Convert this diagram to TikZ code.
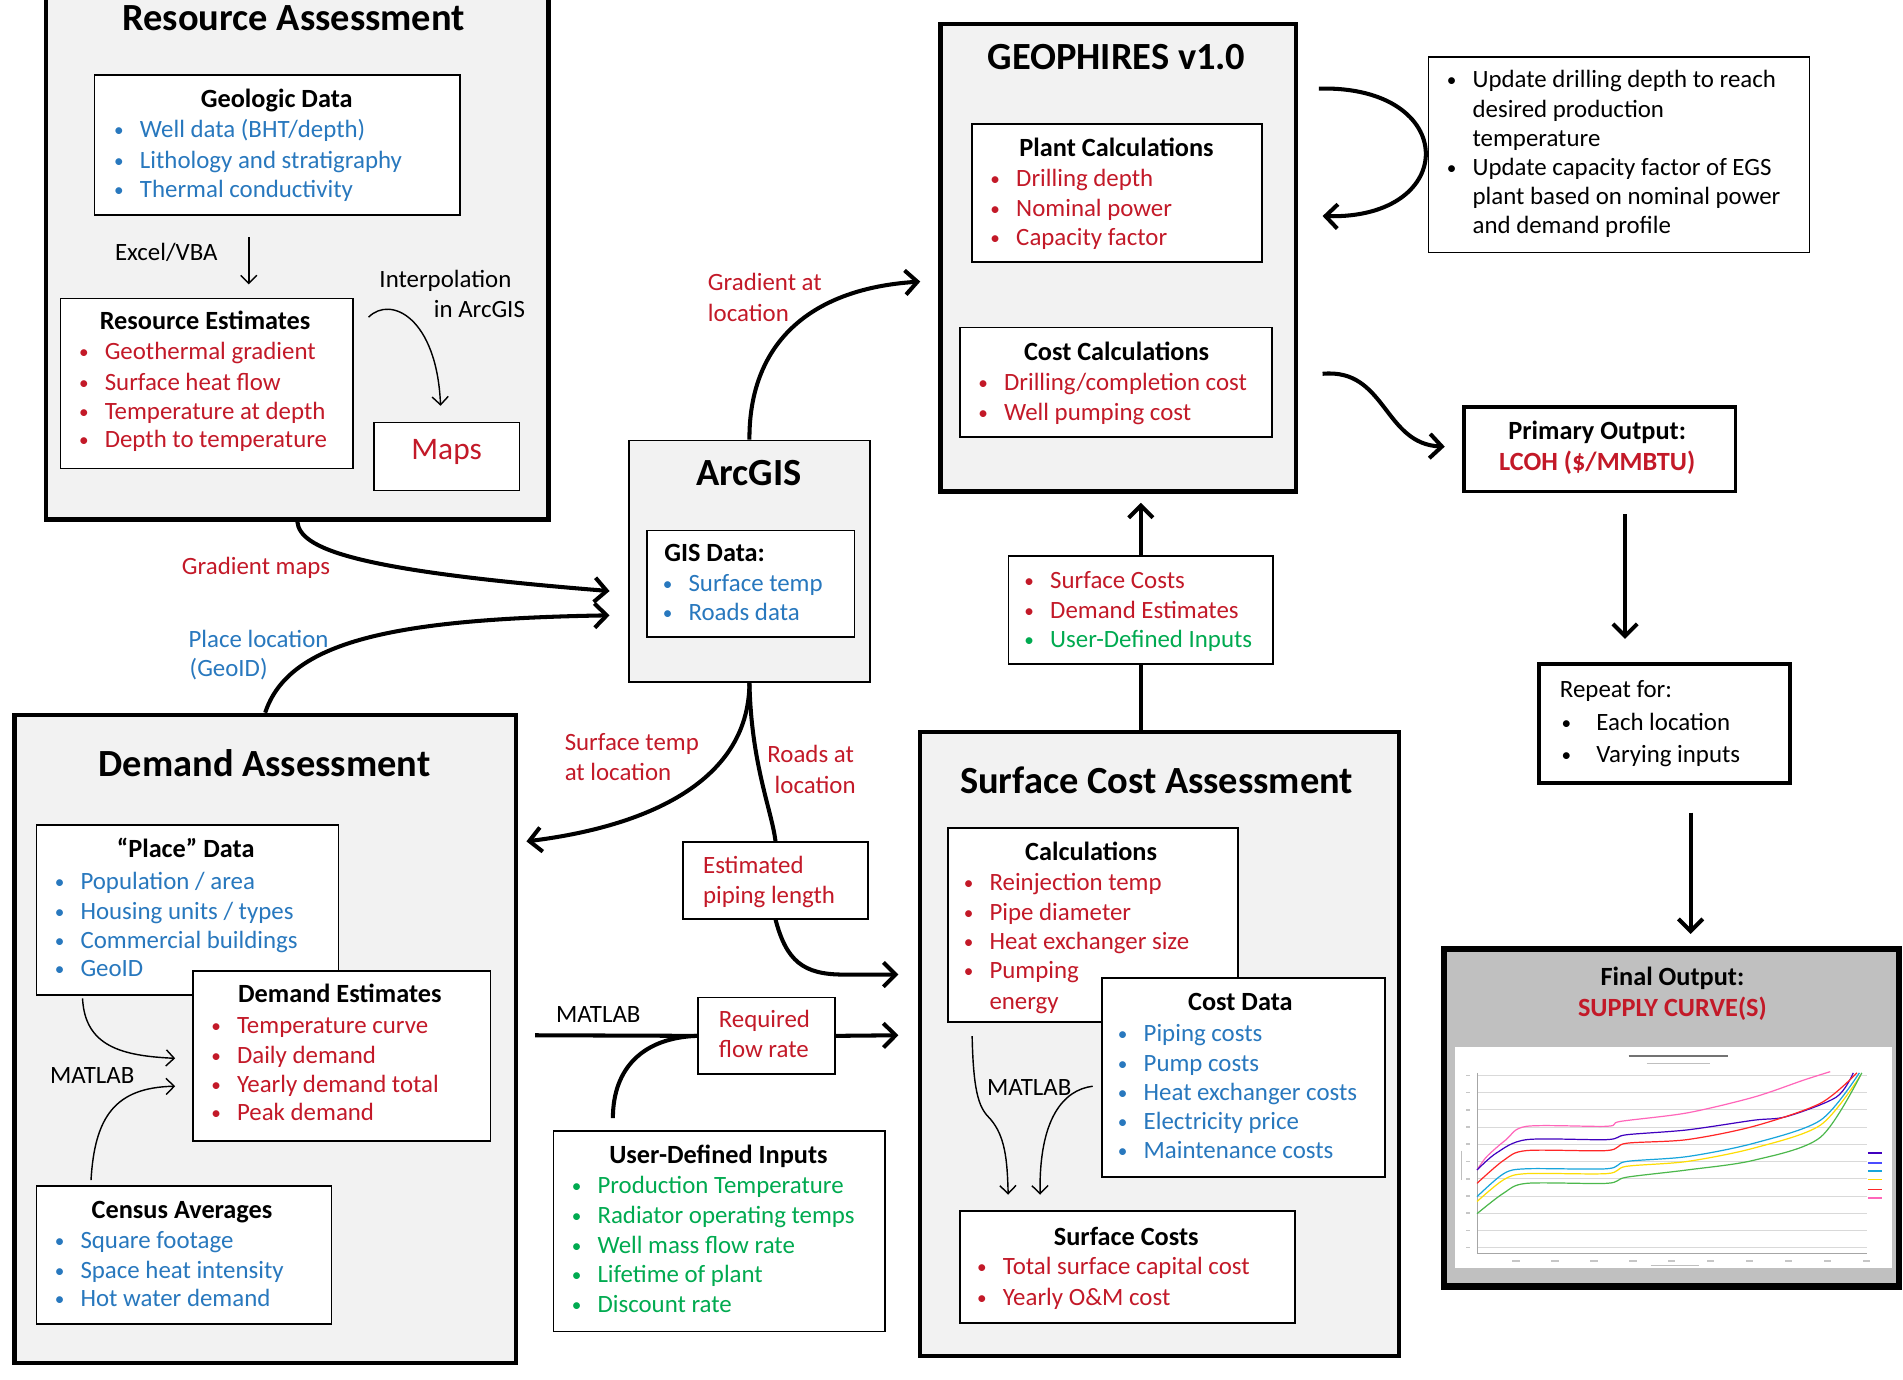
\documentclass[tikz,border=0pt]{standalone}
\usepackage{fontspec}
\setmainfont{Carlito}
\usetikzlibrary{arrows.meta}
\definecolor{bT}{RGB}{40,120,190}
\definecolor{rT}{RGB}{195,25,40}
\definecolor{gT}{RGB}{0,170,80}
\definecolor{bgG}{RGB}{242,242,242}
\definecolor{finG}{RGB}{192,192,192}
\newcommand\mkbox[6]{\node[#6,minimum width={(#4-#2)*0.6pt},minimum height={(#5-#3)*0.6pt}] (#1) at ({(#2+#4)/2},{(#3+#5)/2}) {};}
\newcommand\smbul{\raisebox{0.5pt}{\fontsize{9.5}{9.5}\selectfont\textbullet}}
\newcommand\lItem[5]{\node[itm,text=#4] (#1) at (#2,#3) {\llap{\smbul\hspace{8pt}}#5};}
\newcommand\lItemW[5]{\node[itm,text=#4] (#1) at (#2,#3) {\llap{\smbul\hspace{12.5pt}}#5};}
\newcommand\ltext[5]{\node[itm,text=#4] (#1) at (#2,#3) {#5};}
\begin{document}
\begin{tikzpicture}[x=0.6pt,y=-0.6pt,
  bigbox/.style={draw=black,line width=2.1pt,fill=bgG,inner sep=0pt},
  inbox/.style={draw=black,line width=0.8pt,fill=white,inner sep=0pt},
  midbox/.style={draw=black,line width=0.9pt,fill=bgG,inner sep=0pt},
  outbox/.style={draw=black,line width=1.9pt,fill=white,inner sep=0pt},
  finbox/.style={draw=black,line width=3pt,fill=finG,inner sep=0pt},
  chartbox/.style={fill=white,inner sep=0pt},
  ttl/.style={font=\fontsize{19}{22}\selectfont\bfseries,inner sep=0pt},
  sub/.style={font=\fontsize{13}{15}\selectfont\bfseries,inner sep=0pt,text height=10pt,text depth=1.8pt},
  itm/.style={font=\fontsize{12.3}{14.5}\selectfont,inner sep=0pt,anchor=west,text height=9.4pt,text depth=1.6pt},
  lab/.style={itm,anchor=center},
  thk/.style={line width=2pt,-{Straight Barb[length=6pt,width=12pt]}},
  thkline/.style={line width=2pt},
  thn/.style={line width=0.7pt,-{Straight Barb[length=4pt,width=8pt]}}]
\useasboundingbox (0,0) rectangle (1568,1136.3);
\fill[white] (0,0) rectangle (1568,1136.3);

% ---------------- Resource Assessment
\mkbox{ra}{38}{-5}{452}{428}{bigbox}
\node[ttl] (tRA) at (242,15) {Resource Assessment};
\mkbox{geo}{78}{62}{379}{177}{inbox}
\node[sub] (tgeo) at (228,82) {Geologic Data};
\lItem{g1}{115}{107}{bT}{Well data (BHT/depth)}
\lItem{g2}{115}{132}{bT}{Lithology and stratigraphy}
\lItem{g3}{115}{156}{bT}{Thermal conductivity}
\node[lab] (lexc) at (137,208) {Excel/VBA};
\mkbox{rest}{50}{246}{291}{386}{inbox}
\node[sub] (trest) at (169,265) {Resource Estimates};
\lItem{r1}{86}{290}{rT}{Geothermal gradient}
\lItem{r2}{86}{315}{rT}{Surface heat flow}
\lItem{r3}{86}{339}{rT}{Temperature at depth}
\lItem{r4}{86}{362}{rT}{Depth to temperature}
\node[lab] (lint1) at (367,230) {Interpolation};
\node[lab] (lint2) at (395,255) {in ArcGIS};
\mkbox{maps}{308}{348}{428}{404}{inbox}
\node[font=\fontsize{15.5}{18}\selectfont,text=rT,inner sep=0pt] (tmaps) at (368,372) {Maps};

% ---------------- GEOPHIRES
\mkbox{geoph}{775}{20}{1068}{405}{bigbox}
\node[ttl] (tgeoph) at (920,47) {GEOPHIRES v1.0};
\mkbox{plant}{801}{102}{1040}{216}{inbox}
\node[sub] (tplant) at (920,122) {Plant Calculations};
\lItem{p1}{837}{147}{rT}{Drilling depth}
\lItem{p2}{837}{172}{rT}{Nominal power}
\lItem{p3}{837}{196}{rT}{Capacity factor}
\mkbox{costc}{791}{270}{1048}{360}{inbox}
\node[sub] (tcostc) at (920,290) {Cost Calculations};
\lItem{c1}{827}{315}{rT}{Drilling/completion cost}
\lItem{c2}{827}{340}{rT}{Well pumping cost}

% ---------------- Update box
\mkbox{upd}{1177}{47}{1491}{208}{inbox}
\lItem{u1}{1213}{66}{black}{Update drilling depth to reach}
\ltext{u2}{1213}{90}{black}{desired production}
\ltext{u3}{1213}{114}{black}{temperature}
\lItem{u4}{1213}{138}{black}{Update capacity factor of EGS}
\ltext{u5}{1213}{162}{black}{plant based on nominal power}
\ltext{u6}{1213}{186}{black}{and demand profile}

% ---------------- Primary output, repeat, final
\mkbox{prim}{1206}{335}{1430}{405}{outbox}
\node[sub] (tprim1) at (1316,355) {Primary Output:};
\node[sub,text=rT] (tprim2) at (1316,381) {LCOH (\$/MMBTU)};
\mkbox{rep}{1268}{547}{1475}{645}{outbox}
\ltext{rp0}{1285}{568}{black}{Repeat for:}
\lItemW{rp1}{1315}{595}{black}{Each location}
\lItemW{rp2}{1315}{622}{black}{Varying inputs}
\mkbox{fin}{1190}{782}{1565}{1060}{finbox}
\node[sub] (tfin1) at (1378,805) {Final Output:};
\node[sub,text=rT] (tfin2) at (1378,831) {SUPPLY CURVE(S)};
\mkbox{chart}{1199}{863}{1559}{1045}{chartbox}
\foreach \k in {0,...,10} \draw[gray!30,line width=0.3pt] (1217,{886+14.2*\k}) -- (1538,{886+14.2*\k});
\draw[gray!70,line width=0.4pt] (1217,884) -- (1217,1033) -- (1538,1033);
\foreach \k in {1,...,10} \draw[gray!45,line width=0.8pt] ({1217+32.1*\k-3},1039) -- ++(6,0);
\foreach \k in {0,...,10} \draw[gray!45,line width=0.8pt] (1208,{886+14.2*\k}) -- ++(3,0);
\draw[black!55,line width=1.1pt] (1342,870) -- (1424,870);
\draw[gray!50,line width=0.6pt] (1357,876) -- (1409,876);
\draw[gray!50,line width=0.6pt] (1360,1043) -- (1400,1043);
\draw[gray!50,line width=0.6pt] (1204,948) -- (1204,972);
\draw[red!45!magenta!60,line width=0.6pt] plot[smooth] coordinates {(1217,964) (1225,953) (1241,939) (1258,928) (1324,928) (1335,924) (1390,917) (1445,904) (1486,890) (1508,883)};
\draw[blue!50!violet,line width=0.6pt] plot[smooth] coordinates {(1217,964) (1233,950) (1258,939) (1324,939) (1340,935) (1390,931) (1445,923) (1472,920) (1513,904) (1527,884)};
\draw[red!80!pink,line width=0.6pt] plot[smooth] coordinates {(1217,975) (1239,956) (1258,948) (1324,948) (1340,942) (1390,939) (1445,928) (1500,909) (1530,884)};
\draw[cyan!80!teal,line width=0.6pt] plot[smooth] coordinates {(1217,986) (1239,967) (1258,963) (1324,963) (1340,957) (1390,953) (1445,942) (1500,923) (1532,884)};
\draw[yellow!80!orange,line width=0.6pt] plot[smooth] coordinates {(1217,990) (1239,972) (1258,967) (1324,967) (1340,961) (1390,957) (1445,946) (1500,927) (1533,886)};
\draw[green!60!black!70,line width=0.6pt] plot[smooth] coordinates {(1217,1000) (1239,983) (1258,975) (1324,975) (1340,970) (1390,964) (1445,956) (1500,937) (1534,884)};
\foreach \yy/\cc in {950/blue!50!violet,958/blue!70,965/cyan!80!teal,972/yellow!80!orange,980/red!80!pink,987/red!45!magenta!60}
  \draw[\cc,line width=0.8pt] (1539,\yy) -- (1551,\yy);

% ---------------- ArcGIS
\mkbox{arc}{518}{363}{717}{562}{midbox}
\node[ttl] (tarc) at (617,390) {ArcGIS};
\mkbox{gis}{533}{437}{704}{525}{inbox}
\node[sub,anchor=west] (tgis) at (547,456) {GIS Data:};
\lItem{gi1}{567}{481}{bT}{Surface temp}
\lItem{gi2}{567}{505}{bT}{Roads data}

% ---------------- Middle labels and boxes
\node[lab,text=rT] (lgm) at (211,467) {Gradient maps};
\node[lab,text=bT] (lpl1) at (213,527) {Place location};
\ltext{lpl2}{156}{551}{bT}{(GeoID)}
\ltext{lga1}{583}{233}{rT}{Gradient at}
\ltext{lga2}{583}{258}{rT}{location}
\ltext{lst1}{465}{612}{rT}{Surface temp}
\ltext{lst2}{465}{637}{rT}{at location}
\ltext{lra1}{632}{622}{rT}{Roads at}
\ltext{lra2}{638}{647}{rT}{location}
\mkbox{est}{563}{694}{715}{757}{inbox}
\ltext{es1}{579}{713}{rT}{Estimated}
\ltext{es2}{579}{738}{rT}{piping length}
\node[lab] (lmat1) at (493,836) {MATLAB};
\mkbox{req}{575}{822}{688}{885}{inbox}
\ltext{rq1}{592}{840}{rT}{Required}
\ltext{rq2}{592}{865}{rT}{flow rate}
\mkbox{udi}{456}{932}{729}{1097}{inbox}
\node[sub] (tudi) at (592,952) {User-Defined Inputs};
\lItem{ud1}{492}{977}{gT}{Production Temperature}
\lItem{ud2}{492}{1002}{gT}{Radiator operating temps}
\lItem{ud3}{492}{1026}{gT}{Well mass flow rate}
\lItem{ud4}{492}{1050}{gT}{Lifetime of plant}
\lItem{ud5}{492}{1075}{gT}{Discount rate}
\mkbox{sci}{831}{458}{1049}{547}{inbox}
\lItem{si1}{865}{478}{rT}{Surface Costs}
\lItem{si2}{865}{503}{rT}{Demand Estimates}
\lItem{si3}{865}{527}{gT}{User-Defined Inputs}

% ---------------- Demand Assessment
\mkbox{da}{12}{589}{425}{1123}{bigbox}
\node[ttl] (tda) at (218,629) {Demand Assessment};
\mkbox{place}{30}{680}{279}{820}{inbox}
\node[sub] (tplace) at (153,700) {“Place” Data};
\lItem{pl1}{66}{726}{bT}{Population / area}
\lItem{pl2}{66}{751}{bT}{Housing units / types}
\lItem{pl3}{66}{775}{bT}{Commercial buildings}
\lItem{pl4}{66}{798}{bT}{GeoID}
\mkbox{dest}{159}{800}{404}{940}{inbox}
\node[sub] (tdest) at (280,819) {Demand Estimates};
\lItem{de1}{195}{845}{rT}{Temperature curve}
\lItem{de2}{195}{870}{rT}{Daily demand}
\lItem{de3}{195}{894}{rT}{Yearly demand total}
\lItem{de4}{195}{917}{rT}{Peak demand}
\node[lab] (lmat2) at (76,886) {MATLAB};
\mkbox{census}{30}{977}{273}{1091}{inbox}
\node[sub] (tcensus) at (150,997) {Census Averages};
\lItem{ce1}{66}{1022}{bT}{Square footage}
\lItem{ce2}{66}{1047}{bT}{Space heat intensity}
\lItem{ce3}{66}{1070}{bT}{Hot water demand}

% ---------------- Surface Cost Assessment
\mkbox{sca}{758}{603}{1153}{1117}{bigbox}
\node[ttl] (tsca) at (953,643) {Surface Cost Assessment};
\mkbox{calc}{781}{682}{1020}{842}{inbox}
\node[sub] (tcalc) at (899,702) {Calculations};
\lItem{ca1}{815}{727}{rT}{Reinjection temp}
\lItem{ca2}{815}{752}{rT}{Pipe diameter}
\lItem{ca3}{815}{776}{rT}{Heat exchanger size}
\lItem{ca4}{815}{800}{rT}{Pumping}
\ltext{ca5}{815}{825}{rT}{energy}
\mkbox{cdata}{908}{806}{1141}{970}{inbox}
\node[sub] (tcdata) at (1022,826) {Cost Data};
\lItem{cd1}{942}{852}{bT}{Piping costs}
\lItem{cd2}{942}{876}{bT}{Pump costs}
\lItem{cd3}{942}{900}{bT}{Heat exchanger costs}
\lItem{cd4}{942}{924}{bT}{Electricity price}
\lItem{cd5}{942}{948}{bT}{Maintenance costs}
\node[lab] (lmat3) at (848,896) {MATLAB};
\mkbox{scost}{791}{998}{1067}{1090}{inbox}
\node[sub] (tscost) at (928,1019) {Surface Costs};
\lItem{sc1}{826}{1044}{rT}{Total surface capital cost}
\lItem{sc2}{826}{1069}{rT}{Yearly O\&M cost}

% ---------------- thick connectors
\draw[thk] (ra.south) .. controls (247,452) and (290,470) .. ([xshift=-9pt,yshift=-14.7pt]arc.west);
\draw[thk] (da.north) .. controls (238,528) and (325,510) .. ([xshift=-9pt,yshift=-26.7pt]arc.west);
\draw[thk] (arc.north) .. controls (617,285) and (665,238) .. ([xshift=-9pt,yshift=-11.7pt]geoph.west);
\draw[thk] (arc.south) .. controls (617,648) and (525,682) .. ([xshift=4.2pt,yshift=-63.6pt]da.north east);
\draw[thkline] (arc.south) .. controls (619,630) and (636,668) .. (est.north);
\draw[thk] (est.south) .. controls (648,792) and (662,803) .. (695,803) -- ([xshift=-9.6pt,yshift=34.2pt]sca.west);
\coordinate (mst) at (441,853);
\draw[thkline] (mst) -- (req.west);
\draw[thk] (req.east) -- ([xshift=-9.6pt,yshift=4.2pt]sca.west);
\draw[thkline] ([xshift=-52.5pt,yshift=6pt]udi.north) .. controls (505,880) and (530,855) .. (req.west);
\draw[thkline] (sci.south) -- (sci.south |- sca.north);
\draw[thk,shorten >=4.5pt] (sci.north) -- (sci.north |- geoph.south);
\draw[thk] ([xshift=10.2pt,yshift=83.7pt]geoph.east) .. controls (1203,70) and (1203,181) .. ([xshift=12pt,yshift=20.7pt]geoph.east);
\draw[thk] ([xshift=12pt,yshift=-57.3pt]geoph.east) .. controls (1142,303) and (1140,366) .. ([xshift=-8.4pt,yshift=1.2pt]prim.west);
\coordinate (pA) at ([xshift=12.6pt,yshift=-10.2pt]prim.south);
\draw[thk,shorten >=11.4pt] (pA) -- (pA |- rep.north);
\coordinate (rA) at ([xshift=12.9pt,yshift=-13.8pt]rep.south);
\draw[thk,shorten >=6pt] (rA) -- (rA |- fin.north);

% ---------------- thin connectors
\coordinate (eA) at ([xshift=-14.1pt,yshift=-10.8pt]geo.south);
\draw[thn,shorten >=6.6pt] (eA) -- (eA |- rest.north);
\draw[thn] ([xshift=7.2pt,yshift=-9.6pt]rest.north east) .. controls (322,243) and (360,262) .. ([xshift=-3pt,yshift=7.8pt]maps.north);
\draw[thn] ([xshift=-51.9pt,yshift=-1.2pt]place.south) .. controls (70,862) and (100,870) .. ([xshift=-8.4pt,yshift=-1.2pt]dest.west);
\draw[thn] ([xshift=-45.9pt,yshift=2.4pt]census.north) .. controls (78,920) and (95,896) .. ([xshift=-8.4pt,yshift=-15pt]dest.west);
\draw[thn] ([xshift=-59.7pt,yshift=-6.6pt]calc.south) .. controls (802,905) and (808,914) .. (816,922) .. controls (828,936) and (830,955) .. ([xshift=-59pt,yshift=7.8pt]scost.north);
\draw[thn] ([xshift=-4.2pt,yshift=-4.2pt]cdata.west) .. controls (876,898) and (856,922) .. ([xshift=-43.2pt,yshift=7.8pt]scost.north);
\end{tikzpicture}
\end{document}
